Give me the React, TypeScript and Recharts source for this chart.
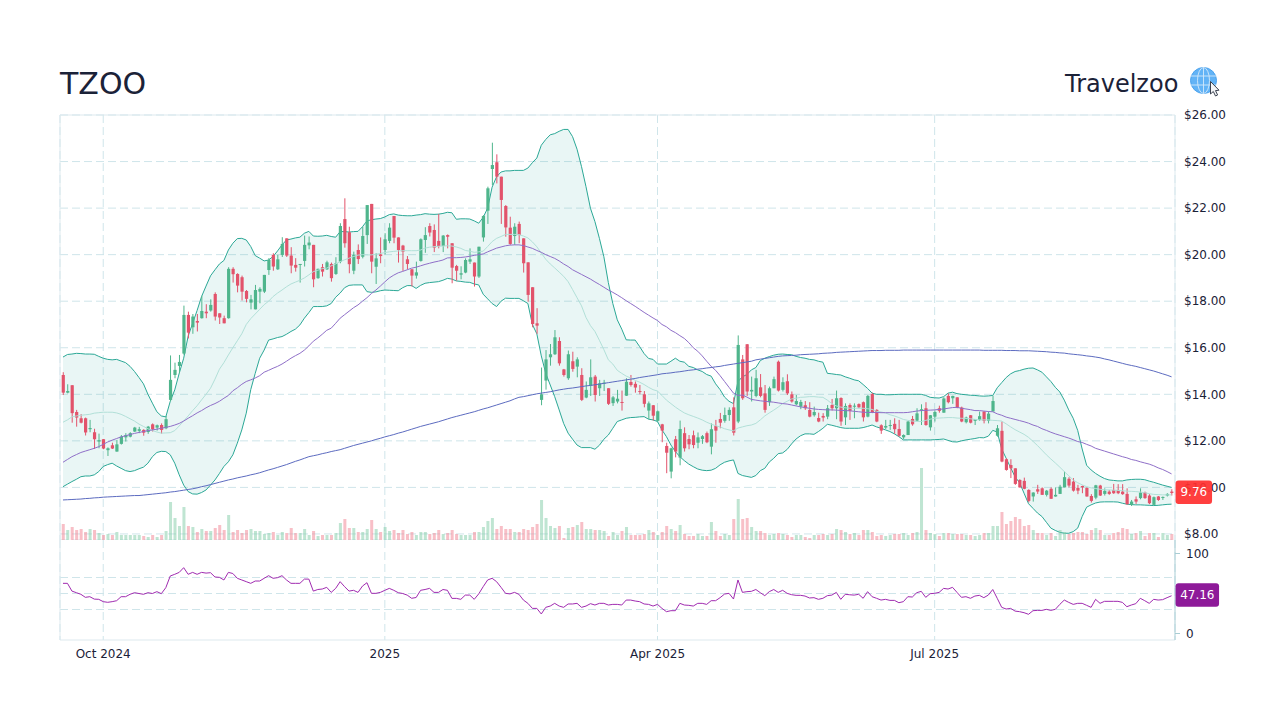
import { Area, Bar, CartesianGrid, ComposedChart, Line, LineChart, ReferenceDot, ReferenceLine, XAxis, YAxis } from "recharts";

const opens = [
  14.83,14.07,14.39,13.24,12.97,12.97,12.5,12.37,11.97,12.07,
  11.6,11.81,11.54,11.87,12.15,12.18,12.4,12.43,12.47,12.38,
  12.71,12.57,12.68,12.54,13.76,14.83,15.22,15.75,17.41,16.88,
  17.15,17.27,17.55,17.6,18.31,17.48,17.27,17.27,19.39,19.17,
  19.03,18.44,17.94,17.65,18.41,18.41,19.34,19.99,19.37,19.99,
  20.7,19.96,19.56,19.56,19.73,20.4,20.42,18.99,19.46,19.37,
  19.6,19.17,19.7,21.53,20.96,19.31,20.2,19.91,20.84,22.18,
  19.48,20.01,20.2,20.59,21.66,20.74,20.39,19.8,19.37,19.1,
  19.73,20.63,21.23,21.06,20.59,20.37,20.84,20.49,19.51,19.14,
  19.23,19.7,19.66,19.06,20.74,21.89,23.68,23.97,23.35,22.09,
  21.16,20.8,21.32,20.7,19.67,18.6,17.05,13.76,14.59,15.59,
  15.72,16.29,15.07,14.69,15.42,15.19,14.83,13.86,14.37,14.76,
  14.26,14.47,14.26,13.62,13.69,13.67,13.94,14.53,14.45,14.14,
  14.0,13.3,13.53,12.86,12.71,11.78,10.68,12.07,11.28,12.33,
  12.08,12.24,11.92,12.08,12.33,11.75,12.64,12.94,12.86,13.11,
  13.44,12.83,15.5,16.15,14.12,13.93,14.3,14.04,13.66,14.26,
  15.4,14.19,14.56,14.0,13.57,13.47,13.53,13.33,13.1,12.98,
  13.07,13.04,13.54,13.4,13.84,13.01,13.54,13.47,13.58,13.66,
  13.04,14.01,13.33,12.67,12.57,12.64,12.73,12.51,12.15,12.25,
  12.94,12.87,13.3,13.4,12.58,13.04,13.4,13.21,13.93,13.83,
  13.87,13.43,12.8,13.1,12.86,12.9,13.26,12.86,13.26,12.22,
  12.43,11.21,10.96,10.82,10.32,10.28,9.89,9.61,9.92,9.96,
  9.68,9.94,9.61,9.72,10.0,10.37,10.25,9.98,10.06,9.98,
  9.63,9.56,10.08,9.72,9.82,9.89,9.89,9.82,9.72,9.25,
  9.49,9.54,9.78,9.65,9.25,9.61,9.56,9.65,9.82,
];
const highs = [
  14.95,14.43,14.39,13.33,13.15,13.0,12.9,12.52,12.31,12.08,
  11.72,11.92,12.04,12.25,12.33,12.37,12.6,12.6,12.5,12.64,
  12.75,12.7,12.75,13.07,15.67,15.36,15.69,17.81,17.55,17.45,
  17.45,18.23,17.87,18.08,18.38,17.48,17.38,19.46,19.46,19.2,
  19.1,18.48,18.27,18.7,18.6,19.13,19.85,20.06,19.99,20.75,
  20.7,20.32,19.85,19.6,20.82,20.78,20.42,19.4,19.6,19.74,
  19.66,19.89,21.35,22.42,21.2,20.13,20.44,21.2,22.13,22.18,
  20.06,20.74,20.92,21.35,21.66,20.74,20.42,19.94,19.38,19.7,
  20.7,21.18,21.35,21.3,21.75,20.84,20.87,20.49,19.56,19.5,
  19.84,20.27,19.66,20.34,21.7,22.92,24.81,24.31,23.35,22.13,
  21.63,21.35,21.42,20.7,19.67,18.6,17.7,15.15,15.9,16.16,
  16.76,16.45,15.09,15.88,15.83,15.59,15.12,14.55,15.5,14.83,
  14.62,14.62,14.26,13.93,14.19,14.16,14.69,14.83,14.55,14.4,
  14.14,13.69,13.54,13.3,12.73,11.92,11.71,12.21,12.87,12.58,
  12.25,12.44,12.36,12.25,12.4,12.75,12.9,13.2,13.43,13.44,
  13.87,16.53,15.69,16.16,14.76,15.05,14.87,14.4,14.33,14.76,
  15.45,14.73,14.86,14.12,13.97,13.76,13.71,13.66,13.47,13.21,
  13.19,13.54,13.8,14.16,13.87,13.61,13.61,13.61,13.61,13.69,
  13.97,14.07,13.36,12.71,12.9,12.9,12.97,12.9,12.28,12.85,
  13.07,13.4,13.57,13.66,13.11,13.3,13.51,13.87,14.04,13.94,
  13.87,13.47,13.04,13.11,12.94,13.26,13.27,13.26,13.94,12.68,
  12.83,11.25,11.21,10.82,10.35,10.42,9.92,9.79,10.11,10.0,
  9.89,10.0,10.0,10.11,10.68,10.44,10.4,10.11,10.08,10.0,
  9.71,10.11,10.11,9.96,9.89,10.15,10.14,10.14,9.96,9.46,
  9.61,9.96,9.82,9.71,9.61,9.63,9.61,9.75,9.92,
];
const lows = [
  13.97,14.04,12.78,12.61,12.75,12.23,12.37,11.65,11.68,11.64,
  11.35,11.65,11.53,11.84,11.97,12.15,12.38,12.33,12.22,12.3,
  12.4,12.44,12.31,12.5,13.7,14.69,14.9,15.7,16.4,16.6,
  16.7,17.25,17.27,17.55,17.17,17.02,17.05,17.25,18.8,18.38,
  18.03,17.95,17.65,17.65,17.91,18.35,19.13,19.31,19.34,19.9,
  19.9,19.2,19.27,18.8,19.49,20.23,18.6,18.96,19.06,19.34,
  18.84,19.13,19.63,20.3,19.2,19.16,19.6,19.84,20.46,19.2,
  18.74,19.63,20.01,20.49,20.49,19.66,19.3,19.37,18.63,18.97,
  19.7,20.08,20.78,20.11,20.27,20.11,20.27,18.77,18.88,18.94,
  19.2,19.6,18.63,19.0,20.56,21.32,22.99,23.06,21.32,20.77,
  20.42,20.42,20.49,19.23,17.98,16.88,16.6,13.53,14.2,15.23,
  15.69,15.23,14.76,14.62,14.97,14.73,13.71,13.83,13.93,13.69,
  13.93,14.14,13.54,13.5,13.61,13.3,13.93,14.33,14.07,14.0,
  13.44,12.93,12.87,12.83,11.94,10.61,10.39,11.29,10.95,11.54,
  11.64,11.68,11.68,11.87,11.9,11.42,11.92,12.54,12.78,12.86,
  12.23,12.76,13.76,13.93,13.69,13.87,13.87,13.21,13.5,14.26,
  14.12,14.12,13.97,13.64,13.53,13.36,13.33,13.01,13.04,12.8,
  12.83,12.93,13.3,12.93,12.65,12.68,12.9,12.97,13.4,12.83,
  13.01,13.19,12.8,12.3,12.5,12.47,12.3,12.18,12.07,12.25,
  12.65,12.83,12.68,12.65,12.44,12.83,13.21,13.21,13.61,13.59,
  13.4,12.8,12.75,12.75,12.68,12.86,12.75,12.75,13.26,12.18,
  11.08,10.72,10.4,10.11,9.99,9.92,9.36,9.39,9.72,9.68,
  9.61,9.51,9.6,9.72,10.0,10.0,9.82,9.71,9.75,9.6,
  9.35,9.49,9.63,9.65,9.68,9.72,9.71,9.68,9.25,9.2,
  9.29,9.49,9.51,9.28,9.23,9.42,9.46,9.61,9.65,
];
const closes = [
  14.07,14.14,13.19,13.0,12.78,12.36,12.55,12.07,12.03,11.67,
  11.68,11.67,11.85,12.18,12.25,12.33,12.57,12.5,12.35,12.61,
  12.5,12.67,12.47,12.93,14.62,15.05,15.39,17.41,16.65,17.34,
  17.08,17.58,17.48,17.84,17.34,17.3,17.05,19.39,19.16,18.67,
  18.41,18.1,18.08,18.48,18.53,19.13,19.77,19.49,19.8,20.46,
  19.96,19.53,19.44,19.6,20.42,20.52,18.94,19.39,19.27,19.67,
  18.99,19.63,21.23,20.49,19.59,19.99,19.81,20.8,22.13,19.7,
  19.84,19.94,20.66,21.16,20.73,20.2,20.13,19.6,19.1,19.24,
  20.66,20.84,20.95,20.3,20.37,20.82,20.77,19.44,19.31,19.2,
  19.77,19.8,19.06,20.34,21.66,22.85,23.85,23.35,22.35,21.17,
  20.46,21.2,20.84,19.63,18.27,17.02,16.95,14.0,15.5,15.72,
  16.45,15.33,14.83,15.72,15.09,15.5,13.76,14.19,14.73,13.97,
  14.47,14.5,13.59,13.87,13.81,13.63,14.54,14.4,14.29,14.1,
  13.59,13.61,13.08,13.27,12.44,11.49,11.68,11.54,12.51,11.68,
  11.85,11.82,12.15,12.2,11.94,12.5,12.44,12.78,13.11,13.33,
  12.35,16.12,13.83,14.12,14.19,14.69,13.93,13.33,14.26,14.65,
  14.16,14.52,14.04,13.69,13.71,13.67,13.4,13.04,13.24,12.83,
  13.0,13.4,13.4,13.83,12.83,13.5,13.29,13.51,13.44,13.01,
  13.93,13.21,12.83,12.44,12.64,12.68,12.5,12.22,12.25,12.83,
  12.71,13.18,13.36,12.68,13.1,13.24,13.29,13.82,13.66,13.93,
  13.43,12.83,13.0,12.78,12.93,13.06,12.86,13.17,13.71,12.54,
  11.11,10.75,10.82,10.15,10.0,9.94,9.42,9.78,9.82,9.68,
  9.86,9.51,9.68,10.03,10.44,10.08,9.86,9.86,10.0,9.61,
  9.42,10.09,9.65,9.85,9.72,9.75,9.75,9.71,9.28,9.39,
  9.39,9.78,9.54,9.32,9.58,9.46,9.59,9.72,9.76,
];
const volumes = [
  16,10,13,10,11,8,11,10,7,5,
  6,5,8,5,5,5,5,5,4,3,
  5,3,5,9,38,22,14,33,14,13,
  8,11,9,9,12,15,10,25,8,10,
  7,10,11,9,9,6,7,8,5,8,
  7,12,7,7,11,5,9,4,5,5,
  5,7,17,21,12,12,8,8,11,20,
  11,8,13,9,10,7,10,6,8,5,
  8,8,6,7,10,6,7,10,6,5,
  5,5,8,8,13,19,22,11,14,11,
  11,8,8,11,10,13,16,40,22,14,
  12,14,2,12,13,15,18,11,11,10,
  10,9,4,8,5,9,13,5,5,5,
  6,10,8,5,8,14,11,9,15,6,
  4,4,6,4,4,18,9,4,6,5,
  21,41,21,22,13,9,9,7,5,6,
  7,6,5,3,5,5,3,2,5,5,
  6,5,6,11,10,8,6,7,5,10,
  10,8,4,5,4,5,6,6,7,5,
  7,8,72,10,7,6,4,7,7,6,
  6,6,5,5,4,5,7,7,14,14,
  28,16,19,23,21,14,15,10,7,7,
  5,7,4,10,8,6,7,8,8,6,
  10,12,10,5,5,7,8,12,11,6,
  7,9,4,7,7,3,7,5,6,
];
const upperBand = [
  15.6,15.71,15.73,15.76,15.75,15.73,15.73,15.72,15.63,15.55,
  15.5,15.48,15.5,15.43,15.36,15.2,14.98,14.72,14.45,14.0,
  13.62,13.25,13.07,13.03,13.7,14.19,14.9,15.55,16.5,17.05,
  17.6,18.2,18.65,19.09,19.35,19.6,19.75,20.2,20.49,20.69,
  20.7,20.63,20.35,19.96,19.85,19.73,19.77,19.92,20.16,20.42,
  20.63,20.67,20.72,20.75,20.92,21.0,20.8,20.79,20.8,20.83,
  20.78,20.75,20.99,20.99,20.97,20.99,21.0,21.2,21.45,21.5,
  21.53,21.55,21.62,21.72,21.75,21.7,21.68,21.67,21.67,21.7,
  21.72,21.76,21.74,21.73,21.74,21.77,21.82,21.8,21.52,21.54,
  21.54,21.53,21.45,21.35,21.6,22.0,22.9,23.35,23.55,23.6,
  23.6,23.62,23.62,23.62,23.72,23.95,24.15,24.7,24.95,25.15,
  25.2,25.3,25.38,25.38,25.07,24.53,23.78,22.92,21.99,21.42,
  20.7,19.91,18.8,17.9,17.2,16.8,16.34,16.33,16.33,16.05,
  15.75,15.54,15.5,15.3,15.3,15.3,15.42,15.55,15.42,15.38,
  15.2,15.15,15.05,14.98,14.85,14.78,14.45,14.2,13.88,13.7,
  13.6,14.55,14.75,14.85,15.05,15.15,15.45,15.55,15.62,15.68,
  15.72,15.73,15.71,15.7,15.63,15.58,15.55,15.5,15.48,15.42,
  15.38,14.9,14.88,14.85,14.83,14.75,14.69,14.62,14.58,14.42,
  14.25,14.05,14.0,14.0,13.98,13.98,13.99,14.0,14.0,14.0,
  14.0,14.0,14.0,13.95,13.87,13.85,13.84,13.9,14.05,14.09,
  14.03,14.0,13.98,13.96,13.95,13.93,13.92,13.93,13.95,14.28,
  14.5,14.72,14.88,14.98,15.02,15.08,15.12,15.13,15.05,14.95,
  14.75,14.55,14.3,14.1,13.75,13.33,12.97,12.45,11.65,10.95,
  10.75,10.6,10.48,10.38,10.32,10.3,10.28,10.28,10.32,10.34,
  10.35,10.35,10.33,10.27,10.22,10.16,10.1,10.05,10.0,
];
const lowerBand = [
  10.03,10.14,10.25,10.35,10.46,10.49,10.49,10.54,10.68,10.9,
  10.98,11.04,10.92,10.82,10.72,10.68,10.72,10.8,10.87,11.04,
  11.32,11.5,11.55,11.54,11.4,11.04,10.54,10.1,9.82,9.72,
  9.71,9.78,9.89,10.1,10.32,10.6,10.9,11.1,11.4,11.9,
  12.47,13.19,14.2,14.9,15.55,15.9,16.33,16.38,16.44,16.48,
  16.58,16.7,16.8,16.98,17.27,17.51,17.77,17.77,17.77,17.8,
  17.9,18.17,18.35,18.58,18.68,18.7,18.7,18.7,18.41,18.38,
  18.4,18.45,18.48,18.47,18.46,18.45,18.58,18.67,18.67,18.55,
  18.68,18.77,18.8,18.82,18.84,18.9,18.98,18.95,18.87,18.85,
  18.82,18.81,18.74,18.7,18.3,18.1,17.9,17.77,18.0,18.13,
  18.12,18.12,18.12,18.02,17.9,17.0,16.6,15.65,14.9,14.4,
  13.9,13.33,12.75,12.33,12.07,11.82,11.71,11.71,11.71,11.64,
  11.81,12.07,12.25,12.54,12.83,12.9,12.97,13.0,13.01,13.03,
  13.04,12.93,12.9,12.83,12.47,12.18,11.82,11.54,11.32,11.15,
  11.0,10.89,10.79,10.74,10.72,10.74,10.82,10.97,11.08,11.14,
  11.18,10.6,10.51,10.47,10.43,10.51,10.72,10.82,11.09,11.25,
  11.45,11.48,11.63,11.87,12.08,12.22,12.3,12.3,12.28,12.4,
  12.54,12.71,12.67,12.62,12.57,12.54,12.54,12.54,12.54,12.57,
  12.62,12.68,12.6,12.54,12.47,12.4,12.3,12.18,12.04,12.04,
  12.04,12.04,12.04,12.04,12.04,12.05,12.06,12.08,12.02,11.96,
  11.95,12.0,12.04,12.07,12.1,12.14,12.13,12.2,12.45,12.38,
  11.65,11.25,10.85,10.45,10.2,9.75,9.3,9.1,8.9,8.75,
  8.5,8.25,8.15,8.07,8.03,8.03,8.1,8.25,8.75,9.15,
  9.25,9.33,9.37,9.38,9.38,9.38,9.37,9.32,9.28,9.26,
  9.25,9.25,9.24,9.23,9.22,9.23,9.25,9.27,9.28,
];
const sma20 = [
  12.8,12.9,13.03,13.07,13.1,13.12,13.14,13.19,13.21,13.23,
  13.23,13.23,13.2,13.14,13.05,12.95,12.85,12.72,12.62,12.52,
  12.44,12.38,12.33,12.34,12.35,12.44,12.64,12.86,13.07,13.3,
  13.51,13.76,14.0,14.26,14.65,15.08,15.36,15.69,16.0,16.3,
  16.6,17.0,17.25,17.45,17.65,17.85,18.0,18.2,18.35,18.48,
  18.62,18.74,18.82,18.9,19.0,19.13,19.27,19.33,19.4,19.42,
  19.52,19.6,19.7,19.78,19.85,19.92,19.98,20.0,19.99,19.99,
  20.02,20.05,20.09,20.12,20.14,20.16,20.17,20.17,20.17,20.17,
  20.2,20.28,20.32,20.34,20.36,20.37,20.38,20.37,20.33,20.27,
  20.18,20.15,20.1,20.12,20.15,20.35,20.56,20.7,20.78,20.87,
  20.87,20.87,20.86,20.8,20.72,20.55,20.34,20.07,19.8,19.6,
  19.43,19.25,19.07,18.84,18.5,18.15,17.8,17.3,16.95,16.7,
  16.32,15.92,15.48,15.3,15.03,14.9,14.78,14.7,14.6,14.52,
  14.42,14.3,14.2,14.14,13.95,13.75,13.6,13.45,13.32,13.2,
  13.12,13.05,12.98,12.9,12.8,12.72,12.65,12.6,12.52,12.47,
  12.43,12.55,12.6,12.65,12.68,12.75,12.9,13.07,13.2,13.32,
  13.45,13.6,13.7,13.8,13.83,13.87,13.88,13.9,13.9,13.88,
  13.87,13.75,13.6,13.5,13.45,13.42,13.4,13.4,13.4,13.4,
  13.38,13.35,13.27,13.24,13.2,13.12,13.07,13.0,12.92,12.88,
  12.85,12.83,12.83,12.88,12.93,12.97,12.98,12.99,13.0,13.0,
  12.98,12.97,12.96,12.95,12.92,12.9,12.9,12.9,12.88,12.87,
  12.85,12.73,12.6,12.48,12.38,12.28,12.15,11.98,11.8,11.6,
  11.4,11.22,11.05,10.87,10.68,10.5,10.32,10.2,10.11,10.03,
  9.98,9.95,9.92,9.9,9.89,9.88,9.87,9.86,9.84,9.83,
  9.82,9.8,9.77,9.73,9.7,9.69,9.68,9.68,9.68,
];
const sma50 = [
  11.08,11.2,11.32,11.41,11.5,11.56,11.62,11.68,11.75,11.85,
  11.95,12.03,12.1,12.17,12.22,12.27,12.32,12.36,12.4,12.44,
  12.47,12.5,12.54,12.58,12.62,12.68,12.75,12.85,12.97,13.08,
  13.2,13.3,13.42,13.52,13.6,13.7,13.83,13.95,14.15,14.28,
  14.43,14.55,14.62,14.7,14.8,14.95,15.03,15.12,15.2,15.3,
  15.42,15.55,15.66,15.76,15.9,16.08,16.28,16.42,16.58,16.75,
  16.84,17.05,17.27,17.42,17.57,17.72,17.84,18.0,18.15,18.33,
  18.48,18.65,18.83,19.0,19.12,19.22,19.28,19.35,19.42,19.46,
  19.52,19.58,19.63,19.68,19.72,19.77,19.86,19.87,19.87,19.88,
  19.9,19.93,19.97,20.0,20.03,20.12,20.2,20.28,20.33,20.38,
  20.41,20.42,20.42,20.39,20.33,20.27,20.18,20.1,20.0,19.92,
  19.84,19.73,19.6,19.49,19.35,19.25,19.15,19.05,18.95,18.83,
  18.72,18.6,18.48,18.38,18.27,18.15,18.02,17.9,17.78,17.65,
  17.52,17.4,17.28,17.17,17.0,16.9,16.75,16.65,16.52,16.4,
  16.22,16.0,15.85,15.65,15.42,15.2,15.03,14.8,14.55,14.3,
  14.05,13.95,13.97,13.88,13.78,13.75,13.72,13.7,13.68,13.66,
  13.63,13.6,13.58,13.54,13.5,13.46,13.43,13.4,13.37,13.35,
  13.34,13.33,13.33,13.32,13.31,13.3,13.29,13.27,13.25,13.23,
  13.22,13.22,13.22,13.21,13.21,13.21,13.21,13.21,13.21,13.22,
  13.25,13.28,13.3,13.31,13.32,13.33,13.35,13.37,13.4,13.43,
  13.44,13.4,13.37,13.34,13.3,13.3,13.28,13.26,13.25,13.16,
  13.1,13.02,12.97,12.92,12.87,12.82,12.76,12.68,12.62,12.52,
  12.45,12.37,12.3,12.24,12.18,12.12,12.05,11.97,11.93,11.85,
  11.78,11.68,11.62,11.56,11.5,11.44,11.38,11.32,11.27,11.2,
  11.16,11.1,11.05,11.0,10.93,10.84,10.77,10.68,10.58,
];
const sma200 = [
  9.46,9.47,9.48,9.49,9.5,9.52,9.53,9.55,9.56,9.58,
  9.59,9.6,9.61,9.62,9.63,9.64,9.65,9.65,9.67,9.69,
  9.71,9.73,9.75,9.77,9.8,9.82,9.85,9.88,9.91,9.94,
  9.98,10.03,10.07,10.12,10.17,10.22,10.27,10.32,10.36,10.41,
  10.45,10.49,10.54,10.58,10.63,10.69,10.75,10.8,10.86,10.92,
  10.98,11.05,11.12,11.18,11.25,11.32,11.36,11.4,11.45,11.49,
  11.54,11.58,11.62,11.68,11.74,11.8,11.85,11.9,11.95,12.0,
  12.06,12.11,12.17,12.22,12.27,12.33,12.38,12.44,12.5,12.56,
  12.62,12.67,12.72,12.77,12.82,12.88,12.94,13.0,13.05,13.1,
  13.15,13.2,13.25,13.31,13.37,13.42,13.48,13.54,13.6,13.66,
  13.72,13.8,13.87,13.9,13.94,13.98,14.02,14.05,14.08,14.11,
  14.15,14.19,14.22,14.25,14.27,14.3,14.33,14.36,14.38,14.41,
  14.44,14.47,14.5,14.53,14.56,14.59,14.62,14.65,14.68,14.72,
  14.75,14.78,14.81,14.84,14.88,14.9,14.92,14.95,14.97,15.0,
  15.03,15.05,15.08,15.1,15.13,15.15,15.18,15.2,15.24,15.27,
  15.3,15.33,15.36,15.39,15.42,15.48,15.51,15.54,15.57,15.6,
  15.63,15.65,15.66,15.67,15.68,15.7,15.71,15.72,15.73,15.74,
  15.76,15.77,15.78,15.8,15.81,15.82,15.83,15.84,15.85,15.86,
  15.87,15.88,15.88,15.88,15.89,15.89,15.89,15.89,15.9,15.9,
  15.9,15.9,15.9,15.9,15.9,15.9,15.9,15.9,15.9,15.9,
  15.9,15.9,15.9,15.9,15.9,15.9,15.89,15.89,15.89,15.89,
  15.89,15.88,15.88,15.88,15.87,15.87,15.87,15.86,15.85,15.84,
  15.83,15.81,15.8,15.78,15.77,15.74,15.72,15.7,15.68,15.65,
  15.63,15.6,15.57,15.52,15.48,15.43,15.38,15.33,15.28,15.24,
  15.2,15.15,15.1,15.05,15.0,14.94,14.88,14.82,14.75,
];
const rsi = [
  62.7,62.7,53,51,49,45.2,46,43,42.7,39.8,
  39,39.8,41,46,46,49,51,50,49,51,
  50,52.3,49.8,57.3,71.9,74,76.4,82.3,74,76.4,
  74,76.4,75.5,76,70.6,70.2,66.9,76.4,75,69,
  66.9,64.8,62.7,65.6,65.6,69,72.3,69,69.8,72.3,
  66.9,62.7,62.7,62.7,68,68,53,55,55.6,57.7,
  51.4,56.4,64.8,58.5,53,54,51.4,59.3,63.5,50.2,
  50.2,51.4,54,56.4,54,51,50,48,44,45,
  54,55,56.4,51.4,51.4,55,54,43.9,43.9,42.7,
  48,48,42.7,49.5,58.5,66.9,69,64.8,57.7,50.2,
  49.5,51.4,49,41.8,37.7,31.4,31.4,24.4,32.7,34.3,
  37.7,34.3,32.7,36.9,36.9,37.7,32.7,34.3,37.3,35.6,
  37.7,37.7,35.6,36.4,36.4,35.6,41.8,41.8,40.6,39.8,
  36.9,36.4,34.3,36.4,31.4,27.3,28.5,28.5,37.7,35.6,
  35.2,34.3,37.7,37.7,36.4,41,41,44.8,49.3,50.2,
  43.1,66.9,51.4,52.3,52.7,55,51,47.3,52.3,55,
  51.4,54,50.2,48.5,47.7,47.7,46.8,44.4,44.8,42.7,
  44,47.3,48,51.4,42.7,49,48.4,48,49,44,
  52.3,46,44,41.8,42.7,41.4,41.4,38.5,39.8,46,
  45.6,51,52.7,45.2,49.8,50.2,51.4,56.4,55.6,57.7,
  51.4,45.2,46,44,46.8,47.7,44.8,48,55,44,
  32.7,30.6,31.4,28,27.3,26,24,28.5,28.9,28.9,
  30.2,28.9,30.2,36.4,41.8,38.9,36.4,37.7,37.7,35.2,
  32.7,42.7,37.7,40.2,40.2,40.2,40.2,38.9,33.5,35.6,
  37.3,44,41,37.7,42.7,41.8,42.3,44.8,47.16,
];

const priceTicks = [8, 10, 12, 14, 16, 18, 20, 22, 24, 26];
const rsiTicks = [0, 100];
const rsiGuides = [30, 50, 70];
const dateTicks = [9, 72, 133, 195];
const dateLabels = ["Oct 2024", "2025", "Apr 2025", "Jul 2025"];

const FONT = "'DejaVu Sans', sans-serif";
const INK = "#1b2238";
const GRID = "#cfe5ea";
const EDGE = "#dde9ee";
const UP = "#4fb58c";
const DOWN = "#e2536b";
const X_DOMAIN: [number, number] = [-0.67, 248.77];
const PRICE_DOMAIN: [number, number] = [7.74, 26];

const rows = opens.map((open, i) => ({
  i,
  open,
  high: highs[i],
  low: lows[i],
  close: closes[i],
  volume: volumes[i],
  band: [lowerBand[i], upperBand[i]],
  sma20: sma20[i],
  sma50: sma50[i],
  sma200: sma200[i],
  rsi: rsi[i],
}));

function Candle({ x, y, width, height, payload }: any) {
  const { open, close, high, low } = payload;
  const perDollar = Math.abs(height) / (high - low);
  const top = Math.min(y, y + height);
  const cx = x + width / 2;
  const bodyTop = top + (high - Math.max(open, close)) * perDollar;
  const bodyH = Math.max(Math.abs(open - close) * perDollar, 1);
  const color = close >= open ? UP : DOWN;
  return (
    <g>
      <line x1={cx} x2={cx} y1={top} y2={top + Math.abs(height)} stroke={color} strokeWidth={1} />
      <rect x={cx - 1.6} y={bodyTop} width={3.2} height={bodyH} fill={color} />
    </g>
  );
}

function VolumeBar({ x, y, width, height, payload }: any) {
  const color = payload.close >= payload.open ? "#7fcca6" : "#f2808f";
  return <rect x={x} y={y} width={width} height={height} fill={color} fillOpacity={0.5} />;
}

function Badge({ cx, cy, label, color, w, opacity = 1 }: any) {
  return (
    <g>
      <rect x={cx + 4} y={cy - 12.5} width={w} height={23.5} rx={3} fill={color} fillOpacity={opacity} />
      <text x={cx + 4 + w / 2} y={cy + 3.5} textAnchor="middle" fontSize={12} fontFamily={FONT} fill="#fff">
        {label}
      </text>
    </g>
  );
}

function Globe() {
  return (
    <svg width={34} height={36} style={{ position: "absolute", left: 1188, top: 65 }}>
      <circle cx={15.5} cy={15.5} r={13} fill="#62b3f6" stroke="#4ca3ee" />
      <ellipse cx={15.5} cy={15.5} rx={6} ry={13} fill="none" stroke="#d3e9fb" strokeWidth={0.9} />
      <path d="M15.5 2.5V28.5M3 11H28M3 20H28" stroke="#d3e9fb" strokeWidth={0.9} fill="none" />
      <path d="M22.5 16.5L22.5 29L25.3 26.5L27.5 31L29.6 30L27.5 25.6L31 25.2Z" fill="#f4f6f8" stroke="#3b4250" strokeWidth={1} />
    </svg>
  );
}

export default function App() {
  return (
    <div style={{ position: "absolute", left: 0, top: 0, width: 1280, height: 720, background: "#fff", fontFamily: FONT }}>
      <div style={{ position: "absolute", left: 60, top: 65, fontSize: 30, lineHeight: "38px", color: INK }}>TZOO</div>
      <div style={{ position: "absolute", left: 1065, top: 68, fontSize: 24, lineHeight: "32px", color: INK }}>Travelzoo</div>
      <Globe />

      <div style={{ position: "absolute", left: 0, top: 0 }}>
        <ComposedChart width={1280} height={540} data={rows} margin={{ top: 115, right: 0, bottom: 0, left: 60 }}>
          <XAxis dataKey="i" type="number" domain={X_DOMAIN} ticks={dateTicks} hide />
          <XAxis xAxisId="volume" dataKey="i" type="number" domain={X_DOMAIN} ticks={dateTicks} hide />
          <YAxis
            yAxisId="price"
            orientation="right"
            width={105}
            domain={PRICE_DOMAIN}
            ticks={priceTicks}
            interval={0}
            tickFormatter={(v: number) => `$${v.toFixed(2)}`}
            tick={{ fontSize: 12, fontFamily: FONT, fill: INK }}
            tickLine={false}
            tickMargin={3}
            axisLine={{ stroke: EDGE }}
          />
          <YAxis yAxisId="volume" hide domain={[0, 425]} />
          <CartesianGrid yAxisId="price" stroke={GRID} strokeDasharray="8 4" />
          <ReferenceLine yAxisId="price" y={26} stroke={EDGE} ifOverflow="visible" />
          <ReferenceLine yAxisId="price" x={-0.67} stroke={EDGE} ifOverflow="visible" />
          <Bar xAxisId="volume" yAxisId="volume" dataKey="volume" barSize={3} shape={<VolumeBar />} isAnimationActive={false} />
          <Area
            yAxisId="price"
            dataKey="band"
            type="linear"
            stroke="#2ba896"
            strokeWidth={1}
            fill="#26a69a"
            fillOpacity={0.1}
            dot={false}
            activeDot={false}
            isAnimationActive={false}
          />
          <Line yAxisId="price" dataKey="sma20" type="linear" stroke="#b2e0d8" strokeWidth={1} dot={false} isAnimationActive={false} />
          <Line yAxisId="price" dataKey="sma50" type="linear" stroke="#8f6fc8" strokeWidth={1} dot={false} isAnimationActive={false} />
          <Line yAxisId="price" dataKey="sma200" type="linear" stroke="#5c6bc0" strokeWidth={1} dot={false} isAnimationActive={false} />
          <Bar yAxisId="price" dataKey={(d: any) => [d.low, d.high]} barSize={3} shape={<Candle />} isAnimationActive={false} />
        </ComposedChart>
      </div>

      {/* second layer so the last-price badge sits above the $10.00 axis label */}
      <div style={{ position: "absolute", left: 0, top: 0 }}>
        <LineChart width={1280} height={540} data={rows} margin={{ top: 115, right: 105, bottom: 0, left: 60 }}>
          <XAxis dataKey="i" type="number" domain={X_DOMAIN} hide />
          <YAxis domain={PRICE_DOMAIN} hide />
          <Line dataKey="close" stroke="none" dot={false} activeDot={false} isAnimationActive={false} />
          <ReferenceDot
            x={248}
            y={9.76}
            ifOverflow="visible"
            shape={<Badge label="9.76" color="#ff2f2f" w={36.5} opacity={0.92} />}
          />
        </LineChart>
      </div>

      <div style={{ position: "absolute", left: 0, top: 540 }}>
        <LineChart width={1280} height={180} data={rows} margin={{ top: 0, right: 0, bottom: 50, left: 60 }}>
          <XAxis
            dataKey="i"
            type="number"
            domain={X_DOMAIN}
            ticks={dateTicks}
            interval={0}
            height={30}
            tickFormatter={(v: number) => dateLabels[dateTicks.indexOf(v)]}
            tick={{ fontSize: 12, fontFamily: FONT, fill: INK }}
            tickLine={false}
            tickMargin={3}
            axisLine={{ stroke: EDGE }}
          />
          <YAxis
            orientation="right"
            width={105}
            domain={[-8.125, 116.875]}
            ticks={rsiTicks}
            interval={0}
            tick={{ fontSize: 12, fontFamily: FONT, fill: INK }}
            tickLine={{ stroke: "#a9cdd4" }}
            tickSize={5}
            tickMargin={6}
            axisLine={{ stroke: "#a9cdd4" }}
          />
          <CartesianGrid stroke={GRID} strokeDasharray="8 4" horizontalValues={rsiGuides} />
          <ReferenceLine x={-0.67} stroke={EDGE} ifOverflow="visible" />
          <Line dataKey="rsi" type="linear" stroke="#a02bb0" strokeWidth={1} dot={false} isAnimationActive={false} />
          <ReferenceDot
            x={248}
            y={47.16}
            ifOverflow="visible"
            shape={<Badge label="47.16" color="#8e1a99" w={43.5} />}
          />
        </LineChart>
      </div>
    </div>
  );
}
